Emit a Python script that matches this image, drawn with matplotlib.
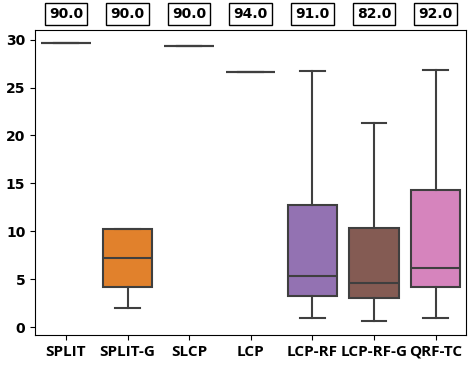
import colorsys
import matplotlib
matplotlib.use('Agg')
import matplotlib.pyplot as plt
import matplotlib.colors as mcolors
import matplotlib.transforms as mtransforms

methods = ['SPLIT', 'SPLIT-G', 'SLCP', 'LCP', 'LCP-RF', 'LCP-RF-G', 'QRF-TC']
whislo = [29.6, 2.0, 29.3, 26.6, 0.95, 0.6, 0.95]
q1 = [29.6, 4.2, 29.3, 26.6, 3.25, 3.0, 4.2]
med = [29.6, 7.2, 29.3, 26.6, 5.3, 4.65, 6.15]
q3 = [29.6, 10.2, 29.3, 26.6, 12.7, 10.35, 14.3]
whishi = [29.6, 10.2, 29.3, 26.6, 26.7, 21.3, 26.8]
coverage = ['90.0', '90.0', '90.0', '94.0', '91.0', '82.0', '92.0']

palette = ['#1f77b4', '#ff7f0e', '#2ca02c', '#d62728', '#9467bd', '#8c564b', '#e377c2']


def desaturate(c, prop=0.75):
    h, l, s = colorsys.rgb_to_hls(*mcolors.to_rgb(c))
    return colorsys.hls_to_rgb(h, l, s * prop)


stats = []
for i, name in enumerate(methods):
    stats.append(dict(label=name, whislo=whislo[i], q1=q1[i], med=med[i],
                      q3=q3[i], whishi=whishi[i], fliers=[]))

line_c = '#3f3f3f'
lw = 1.5

fig, ax = plt.subplots(figsize=(4.74, 3.66), dpi=100)
bp = ax.bxp(stats, positions=range(len(methods)), widths=0.8, patch_artist=True,
            showfliers=False,
            boxprops=dict(edgecolor=line_c, linewidth=lw),
            medianprops=dict(color=line_c, linewidth=lw),
            whiskerprops=dict(color=line_c, linewidth=lw),
            capprops=dict(color=line_c, linewidth=lw))
for patch, c in zip(bp['boxes'], palette):
    patch.set_facecolor(desaturate(c))

ax.set_xlim(-0.5, len(methods) - 0.5)
ax.set_ylim(-0.8, 31.0)
ax.set_yticks([0, 5, 10, 15, 20, 25, 30])
ax.set_xticks(range(len(methods)))
ax.set_xticklabels(methods, family='Open Sans', fontweight='bold', fontsize=11)
for lab in ax.get_yticklabels():
    lab.set_fontweight('bold')
    lab.set_fontsize(10)

trans = mtransforms.blended_transform_factory(ax.transData, ax.transAxes)
for i, txt in enumerate(coverage):
    ax.text(i, 1.052, txt, transform=trans, ha='center', va='center',
            fontsize=10, fontweight='bold',
            bbox=dict(facecolor='white', edgecolor='black', boxstyle='square,pad=0.3'))

fig.subplots_adjust(left=0.074, right=0.984, top=0.918, bottom=0.085)
fig.savefig('out.png', dpi=100)
